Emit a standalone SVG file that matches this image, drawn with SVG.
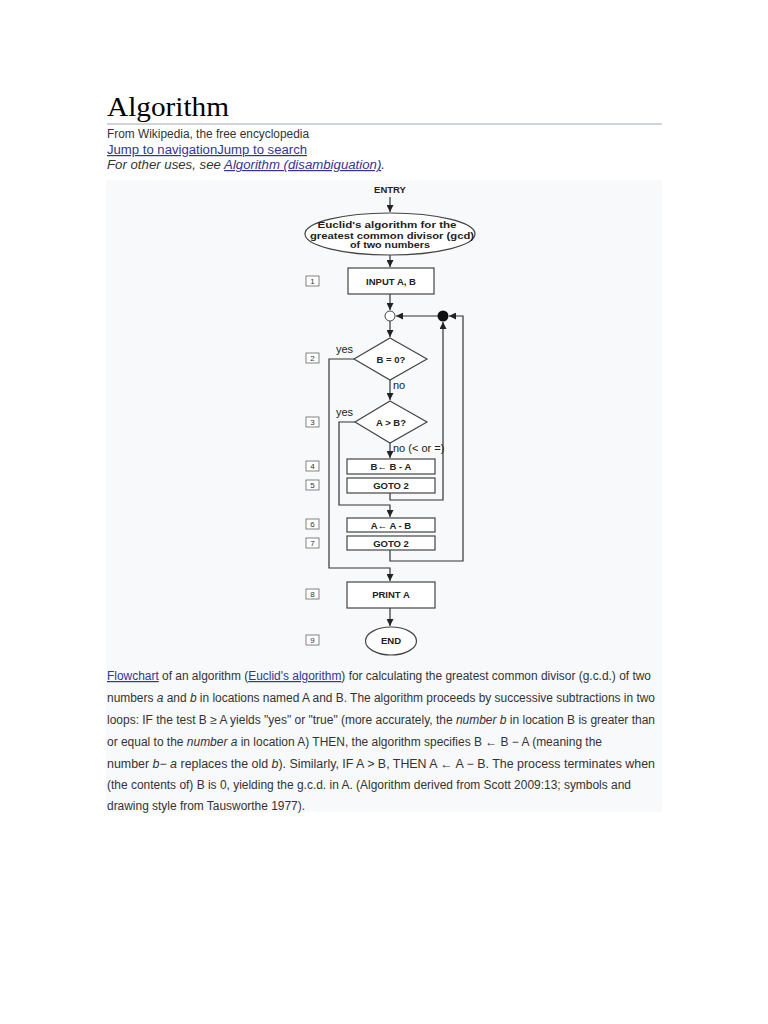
<svg xmlns="http://www.w3.org/2000/svg" width="768" height="1024" viewBox="0 0 768 1024">
<defs>
<marker id="ah" viewBox="0 0 10 10" refX="10" refY="5" markerWidth="7" markerHeight="7" orient="auto" markerUnits="userSpaceOnUse">
<path d="M0,0 L10,5 L0,10 z" fill="#222"/>
</marker>
</defs>
<style>
.body{font-family:"Liberation Sans",Arial,sans-serif;font-size:12px;fill:#333}
.link{fill:#33339a;text-decoration:underline}
.it{font-style:italic}
.fc{font-family:"Liberation Sans",Arial,sans-serif;font-weight:bold;font-size:9.5px;fill:#222;text-anchor:middle}
.lbl{font-family:"Liberation Sans",Arial,sans-serif;font-size:11px;fill:#222}
.shape{fill:#fff;stroke:#444;stroke-width:1.2}
.num{fill:#fff;stroke:#666;stroke-width:0.8}
.numt{font-family:"Liberation Sans",Arial,sans-serif;font-size:8px;fill:#333;text-anchor:middle}
.con{fill:none;stroke:#333;stroke-width:1.2}
</style>
<rect width="768" height="1024" fill="#fff"/>
<text x="107" y="116" font-family="Liberation Serif,serif" font-size="28" fill="#000" textLength="122" lengthAdjust="spacingAndGlyphs">Algorithm</text>
<line x1="107" y1="124" x2="662" y2="124" stroke="#a2a9b1" stroke-width="1"/>
<text class="body" x="107" y="138" textLength="202" lengthAdjust="spacingAndGlyphs">From Wikipedia, the free encyclopedia</text>
<text class="body link" x="107" y="154" textLength="200" lengthAdjust="spacingAndGlyphs">Jump to navigationJump to search</text>
<text class="body it" x="107" y="169" textLength="278" lengthAdjust="spacingAndGlyphs">For other uses, see <tspan class="link">Algorithm (disambiguation)</tspan>.</text>

<rect x="106" y="180" width="556" height="632" fill="#f8f9fa"/>

<g id="connectors">
<line class="con" x1="390" y1="197" x2="390" y2="212" marker-end="url(#ah)"/>
<line class="con" x1="390" y1="255" x2="390" y2="267" marker-end="url(#ah)"/>
<line class="con" x1="390" y1="294" x2="390" y2="310" marker-end="url(#ah)"/>
<line class="con" x1="390" y1="321" x2="390" y2="337" marker-end="url(#ah)"/>
<line class="con" x1="390" y1="380" x2="390" y2="400" marker-end="url(#ah)"/>
<line class="con" x1="390" y1="443" x2="390" y2="458" marker-end="url(#ah)"/>
<path class="con" d="M390,493 V500 H443 V322" marker-end="url(#ah)"/>
<line class="con" x1="438" y1="316" x2="396" y2="316" marker-end="url(#ah)"/>
<path class="con" d="M355,422 H339 V505 H390 V517" marker-end="url(#ah)"/>
<path class="con" d="M390,550 V561 H463 V316 H449" marker-end="url(#ah)"/>
<path class="con" d="M354,359 H329 V568 H390 V581" marker-end="url(#ah)"/>
<line class="con" x1="390" y1="608" x2="390" y2="626" marker-end="url(#ah)"/>
</g>

<g id="entry"><text class="fc" x="390" y="193" font-size="10">ENTRY</text></g>
<g id="start">
<ellipse class="shape" cx="390" cy="234" rx="85" ry="21"/>
<text class="fc" x="387" y="228" font-size="11" textLength="139" lengthAdjust="spacingAndGlyphs">Euclid's algorithm for the</text>
<text class="fc" x="392" y="239" font-size="11" textLength="164" lengthAdjust="spacingAndGlyphs">greatest common divisor (gcd)</text>
<text class="fc" x="390" y="248" font-size="10" textLength="80" lengthAdjust="spacingAndGlyphs">of two numbers</text>
</g>
<g id="n1">
<rect class="num" x="306" y="276" width="13" height="10"/><text class="numt" x="312.5" y="284">1</text>
<rect class="shape" x="348" y="268" width="86" height="26"/>
<text class="fc" x="391" y="285" font-size="11">INPUT A, B</text>
</g>
<g id="join"><circle cx="390" cy="316" r="5" fill="#fff" stroke="#444" stroke-width="1"/></g>
<g id="join2"><circle cx="443" cy="316" r="5.5" fill="#111"/></g>
<g id="n2">
<rect class="num" x="306" y="353" width="13" height="10"/><text class="numt" x="312.5" y="361">2</text>
<polygon class="shape" points="390,338 427,359 390,380 354,359"/>
<text class="fc" x="391" y="363" font-size="10.5">B = 0?</text>
<text class="lbl" x="336" y="353">yes</text>
<text class="lbl" x="393" y="389">no</text>
</g>
<g id="n3">
<rect class="num" x="306" y="417" width="13" height="10"/><text class="numt" x="312.5" y="425">3</text>
<polygon class="shape" points="390,401 427,422 390,443 355,422"/>
<text class="fc" x="391" y="426" font-size="10.5">A &gt; B?</text>
<text class="lbl" x="336" y="416">yes</text>
<text class="lbl" x="393" y="452" font-size="9.5">no (&lt; or =)</text>
</g>
<g id="n4">
<rect class="num" x="306" y="461" width="13" height="10"/><text class="numt" x="312.5" y="469">4</text>
<rect class="shape" x="347" y="459" width="88" height="15"/>
<text class="fc" x="391" y="470">B← B - A</text>
</g>
<g id="n5">
<rect class="num" x="306" y="480" width="13" height="10"/><text class="numt" x="312.5" y="488">5</text>
<rect class="shape" x="347" y="478" width="88" height="15"/>
<text class="fc" x="391" y="489">GOTO 2</text>
</g>
<g id="n6">
<rect class="num" x="306" y="519" width="13" height="10"/><text class="numt" x="312.5" y="527">6</text>
<rect class="shape" x="347" y="518" width="88" height="14"/>
<text class="fc" x="391" y="529">A← A - B</text>
</g>
<g id="n7">
<rect class="num" x="306" y="538" width="13" height="10"/><text class="numt" x="312.5" y="546">7</text>
<rect class="shape" x="347" y="536" width="88" height="14"/>
<text class="fc" x="391" y="547">GOTO 2</text>
</g>
<g id="n8">
<rect class="num" x="306" y="589" width="13" height="10"/><text class="numt" x="312.5" y="597">8</text>
<rect class="shape" x="347" y="582" width="88" height="26"/>
<text class="fc" x="391" y="598">PRINT A</text>
</g>
<g id="n9">
<rect class="num" x="306" y="635" width="13" height="10"/><text class="numt" x="312.5" y="643">9</text>
<ellipse class="shape" cx="391" cy="641" rx="25.5" ry="14"/>
<text class="fc" x="391" y="644">END</text>
</g>

<text class="body" x="107" y="680" textLength="544" lengthAdjust="spacingAndGlyphs"><tspan class="link">Flowchart</tspan> of an algorithm (<tspan class="link">Euclid's algorithm</tspan>) for calculating the greatest common divisor (g.c.d.) of two</text>
<text class="body" x="107" y="702" textLength="548" lengthAdjust="spacingAndGlyphs">numbers <tspan class="it">a</tspan> and <tspan class="it">b</tspan> in locations named A and B. The algorithm proceeds by successive subtractions in two</text>
<text class="body" x="107" y="724" textLength="548" lengthAdjust="spacingAndGlyphs">loops: IF the test B ≥ A yields "yes" or "true" (more accurately, the <tspan class="it">number b</tspan> in location B is greater than</text>
<text class="body" x="107" y="746" textLength="495" lengthAdjust="spacingAndGlyphs">or equal to the <tspan class="it">number a</tspan> in location A) THEN, the algorithm specifies B ← B − A (meaning the</text>
<text class="body" x="107" y="768" textLength="548" lengthAdjust="spacingAndGlyphs">number <tspan class="it">b</tspan>− <tspan class="it">a</tspan> replaces the old <tspan class="it">b</tspan>). Similarly, IF A &gt; B, THEN A ← A − B. The process terminates when</text>
<text class="body" x="107" y="789" textLength="524" lengthAdjust="spacingAndGlyphs">(the contents of) B is 0, yielding the g.c.d. in A. (Algorithm derived from Scott 2009:13; symbols and</text>
<text class="body" x="107" y="810" textLength="198" lengthAdjust="spacingAndGlyphs">drawing style from Tausworthe 1977).</text>
</svg>
